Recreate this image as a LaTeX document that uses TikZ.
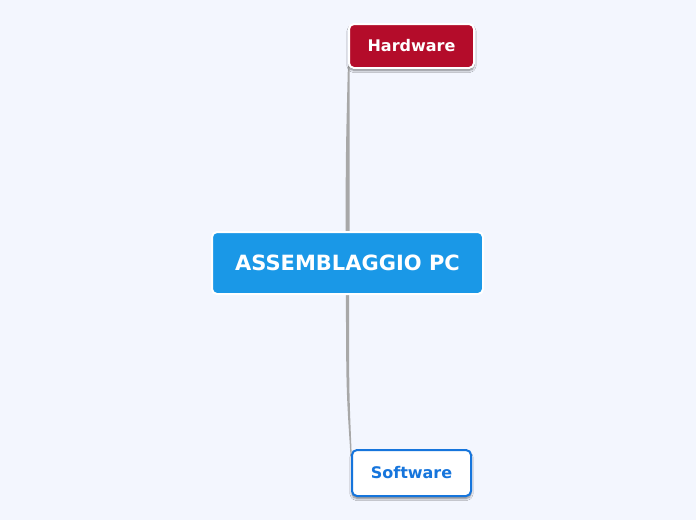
\documentclass[tikz,border=0pt]{standalone}
\usepackage{fontspec}
\setmainfont{DejaVu Sans}
\usepackage{xcolor}
\definecolor{bgblue}{RGB}{243,246,254}
\definecolor{mainblue}{RGB}{26,152,231}
\definecolor{hwred}{RGB}{180,12,42}
\definecolor{swblue}{RGB}{22,117,220}
\definecolor{linegrey}{RGB}{168,168,168}
\usetikzlibrary{shadows.blur,backgrounds}
\tikzset{
  topic/.style={rounded corners=5pt, line width=2pt, font=\bfseries, align=center, inner sep=0pt},
  subtopic/.style={topic,
    blur shadow={shadow xshift=0pt, shadow yshift=-2.5pt, shadow blur steps=6, shadow opacity=50}},
  branch/.style={fill=linegrey},
}

\begin{document}
\begin{tikzpicture}[x=1pt,y=-1pt]
\node[topic, fill=mainblue, draw=white, minimum width=271pt, minimum height=62pt,
  text=white, font=\bfseries\fontsize{21}{24}\selectfont] (main) at (347.5,263) {ASSEMBLAGGIO PC};
\node[subtopic, fill=hwred, draw=white, minimum width=125pt, minimum height=44pt,
  text=white, font=\bfseries\fontsize{16}{19}\selectfont] (hw) at (411.5,46) {Hardware};
\node[subtopic, fill=white, draw=swblue, minimum width=119pt, minimum height=46pt,
  text=swblue, font=\bfseries\fontsize{16}{19}\selectfont] (sw) at (411.5,473) {Software};
\coordinate (hwend) at (348.7,66);
\coordinate (swend) at (351.2,457);
% tapered branches, behind the topics
\begin{scope}[on background layer]
\fill[bgblue] (0,0) rectangle (696,520);
\fill[branch] ([xshift=-2pt,yshift=-2pt]main.north) .. controls (345.8,150) .. ([xshift=-0.8pt]hwend)
  -- ([xshift=0.8pt]hwend) .. controls (349.3,150) .. ([xshift=2pt,yshift=-2pt]main.north) -- cycle;
\fill[branch] ([xshift=-1.6pt,yshift=2pt]main.south) .. controls (346.2,390) .. ([xshift=-0.6pt]swend)
  -- ([xshift=0.6pt]swend) .. controls (349,390) .. ([xshift=1.6pt,yshift=2pt]main.south) -- cycle;
\end{scope}
\useasboundingbox (0,0) rectangle (696,520);
\end{tikzpicture}
\end{document}
